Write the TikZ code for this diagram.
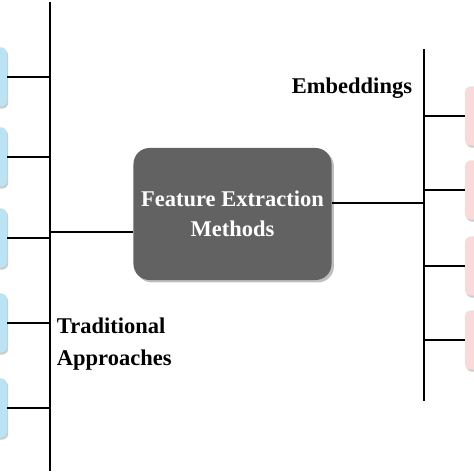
\documentclass[tikz,border=0pt]{standalone}
\usepackage{fontspec}
\setmainfont{Liberation Serif}
\usepackage{tikz}
\usetikzlibrary{positioning,shadows}
\definecolor{Slate}{HTML}{626262}
\definecolor{Sky}{HTML}{BCE3F3}
\definecolor{Blush}{HTML}{F9DADA}

\begin{document}
\begin{tikzpicture}[x=0.025cm,y=-0.025cm,
    trunk/.style={line width=1.1pt,black},
    mainbox/.style={rounded corners=0.4cm,fill=Slate,text=white,font=\bfseries\fontsize{16}{21.5}\selectfont,
      align=center,minimum width=4.95cm,minimum height=3.3cm,
      drop shadow={shadow xshift=0.06cm,shadow yshift=-0.06cm,fill=black!25,opacity=1}},
    leafbox/.style={rounded corners=0.15cm,minimum width=1cm,minimum height=1.48cm,
      drop shadow={shadow xshift=0.03cm,shadow yshift=-0.05cm,fill=black!20,opacity=1}},
    grouplabel/.style={font=\bfseries\fontsize{16}{22.5}\selectfont,align=left}]
  \useasboundingbox (0,0) rectangle (474,474);
  \clip (0,0) rectangle (474,474);
  \fill[white] (0,0) rectangle (474,474);
  % central node
  \node[mainbox] (fem) at (232.5,214) {Feature Extraction\\Methods};
  % left branch
  \coordinate (ltop) at (50,2);
  \coordinate (lbot) at (50,471);
  \coordinate (ljoin) at (50,232);
  \draw[trunk] (ltop) -- (lbot);
  \draw[trunk] (ljoin) -- (ljoin -| fem.west);
  \foreach \i/\y in {1/77,2/157,3/238,4/323,5/408}{
    \node[leafbox,fill=Sky] (trad\i) at (-13,\y) {};
    \draw[trunk] (trad\i.east) -- (trad\i.east -| ltop);
  }
  \node[grouplabel,anchor=west] (tradlab) at (52,344) {Traditional\\Approaches};
  % right branch
  \coordinate (rtop) at (424,49);
  \coordinate (rbot) at (424,401);
  \coordinate (rjoin) at (424,203);
  \draw[trunk] (rtop) -- (rbot);
  \draw[trunk] (fem.east |- rjoin) -- (rjoin);
  \foreach \i/\y in {1/116,2/190,3/266,4/340}{
    \node[leafbox,fill=Blush] (emb\i) at (485,\y) {};
    \draw[trunk] (emb\i.west -| rtop) -- (emb\i.west);
  }
  \node[grouplabel] (emblab) at (352,88) {Embeddings};
\end{tikzpicture}
\end{document}
